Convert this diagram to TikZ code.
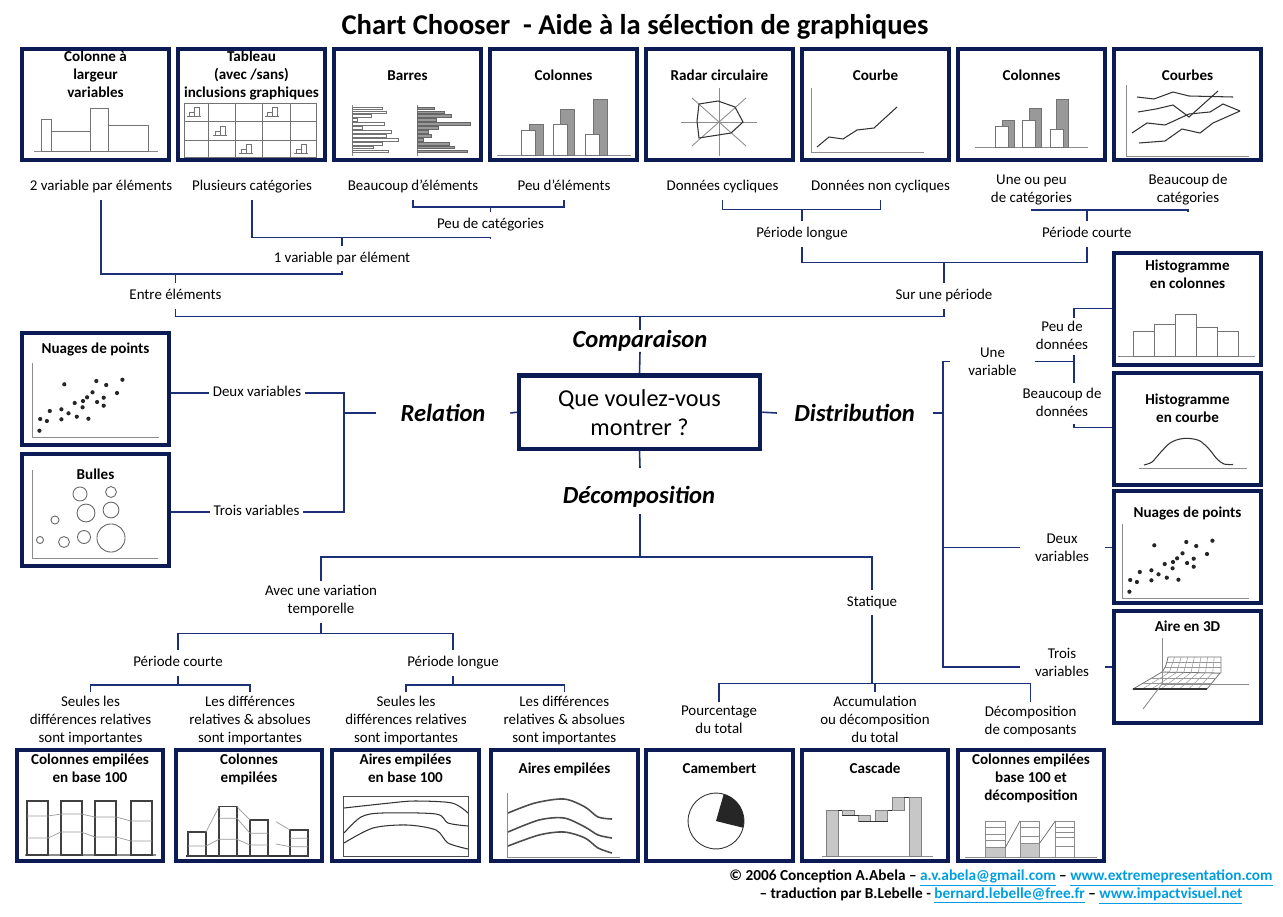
\documentclass[tikz,border=0pt]{standalone}
\usepackage{fontspec}
\setmainfont{Carlito}
\usepackage{xcolor}
\definecolor{boxblue}{RGB}{12,27,84}
\definecolor{lineblue}{RGB}{28,48,120}
\definecolor{webblue}{RGB}{0,158,224}

\tikzset{
  chartbox/.style={draw=boxblue, line width=2.2pt, minimum width=2.93cm, minimum height=2.23cm, inner sep=0pt},
  boxtitle/.style={font=\fontsize{8.6}{10.2}\selectfont\bfseries, align=center, inner sep=1pt, yshift=-1.2pt,
    execute at begin node=\strut, execute at end node=\strut},
  lbl/.style={font=\fontsize{8.5}{10.2}\selectfont, align=center, inner sep=2pt, yshift=-1.2pt,
    execute at begin node=\strut, execute at end node=\strut},
  cat/.style={font=\fontsize{14}{16}\selectfont\bfseries\itshape, inner sep=0pt},
  conn/.style={draw=lineblue, line width=0.9pt},
  axe/.style={draw=black!45, line width=0.5pt},
  fine/.style={draw=black!55, line width=0.45pt},
  crv/.style={draw=black!80, line width=0.6pt}
}

\newcommand{\minibar}[2]{%
  \draw[fine] (#1,#2) -- (#1+14,#2);
  \draw[fine] (#1+2,#2) rectangle (#1+7,#2-4);
  \draw[fine] (#1+7,#2) rectangle (#1+12,#2-9);}
\newcommand{\scatterdots}[2]{%
  \foreach \dx/\dy in {32.3/52.7,64.3/56,74.2/52,90.4/57.3,85/44,60.5/44.7,71.7/39.3,65.1/35,71.7/31.3,55.1/39.7,51/36,50.6/29.7,42.7/34,36.5/23.7,29.4/27.7,17.8/26,44.8/20.3,56.4/18.3,29.4/17.7,14.9/16,8.2/18,7.4/6.3}
    \fill[black!85] (#1+\dx,#2-\dy) circle (1.2pt);}
\newcommand{\weblink}[1]{\textcolor{webblue}{\underline{#1}}}

\begin{document}
\begin{tikzpicture}[x=0.02cm, y=-0.02cm]
\useasboundingbox (0,0) rectangle (1283,916);

\node[font=\fontsize{16.3}{18}\selectfont\bfseries] (title) at (635,27) {Chart Chooser~ - Aide à la sélection de graphiques};

% Top row
\node[chartbox] (colvar) at (95.5,104.5) {};
\node[chartbox] (tableau) at (251.5,104.5) {};
\node[chartbox] (barres) at (407.5,104.5) {};
\node[chartbox] (colpeu) at (563.5,104.5) {};
\node[chartbox] (radar) at (719.5,104.5) {};
\node[chartbox] (courbe) at (875.5,104.5) {};
\node[chartbox] (colcourt) at (1031.5,104.5) {};
\node[chartbox] (courbes) at (1187.5,104.5) {};
\node[boxtitle] (tcolvar) at (95.5,75) {Colonne à\\largeur\\variables};
\node[boxtitle] (ttableau) at (251.5,75) {Tableau\\(avec /sans)\\inclusions graphiques};
\node[boxtitle] (tbarres) at (407.5,75) {Barres};
\node[boxtitle] (tcolpeu) at (563.5,75) {Colonnes};
\node[boxtitle] (tradar) at (719.5,75) {Radar circulaire};
\node[boxtitle] (tcourbe) at (875.5,75) {Courbe};
\node[boxtitle] (tcolcourt) at (1031.5,75) {Colonnes};
\node[boxtitle] (tcourbes) at (1187.5,75) {Courbes};

% Left column
\node[chartbox] (nuage) at (95.5,389) {};
\node[chartbox] (bulles) at (95.5,510) {};
\node[boxtitle] (tnuage) at (95.5,348) {Nuages de points};
\node[boxtitle] (tbulles) at (95.5,474) {Bulles};

% Right column
\node[chartbox] (hcol) at (1187.5,309) {};
\node[chartbox] (hcur) at (1187.5,429) {};
\node[chartbox] (nuage2) at (1187.5,547) {};
\node[chartbox] (aire3d) at (1187.5,667) {};
\node[boxtitle] (thcol) at (1187.5,275) {Histogramme\\en colonnes};
\node[boxtitle] (thcur) at (1187.5,409) {Histogramme\\en courbe};
\node[boxtitle] (tnuage2) at (1187.5,512) {Nuages de points};
\node[boxtitle] (taire3d) at (1187.5,626) {Aire en 3D};

% Bottom row
\node[chartbox] (cb100) at (90,805.5) {};
\node[chartbox] (cemp) at (249,805.5) {};
\node[chartbox] (aire100) at (405.5,805.5) {};
\node[chartbox] (aires) at (564.5,805.5) {};
\node[chartbox] (camemb) at (719.5,805.5) {};
\node[chartbox] (cascade) at (875,805.5) {};
\node[chartbox] (cdecomp) at (1031,805.5) {};
\node[boxtitle] (tcb100) at (90,769) {Colonnes empilées\\en base 100};
\node[boxtitle] (tcemp) at (249,769) {Colonnes\\empilées};
\node[boxtitle] (taire100) at (405.5,769) {Aires empilées\\en base 100};
\node[boxtitle] (taires) at (564.5,768) {Aires empilées};
\node[boxtitle] (tcamemb) at (719.5,768) {Camembert};
\node[boxtitle] (tcascade) at (875,768) {Cascade};
\node[boxtitle] (tcdecomp) at (1031,777.5) {Colonnes empilées\\base 100 et\\décomposition};

% Centre
\node[draw=boxblue, line width=2.6pt, minimum width=4.82cm, minimum height=1.47cm, align=center,
  font=\fontsize{13.8}{16.5}\selectfont] (ask) at (639.5,412.2) {Que voulez-vous\\montrer ?};
\node[cat] (comp) at (640,341) {Comparaison};
\node[cat, minimum width=2.68cm] (relation) at (443,413) {Relation};
\node[cat, minimum width=3.1cm] (distri) at (854.7,413) {Distribution};
\node[cat] (decomp) at (639,497) {Décomposition};

% Labels, comparaison
\node[lbl] (deuxvar) at (101,185) {2 variable par éléments};
\node[lbl] (plus) at (252,185) {Plusieurs catégories};
\node[lbl] (beau) at (413,185) {Beaucoup d’éléments};
\node[lbl] (peu) at (564,185) {Peu d’éléments};
\node[lbl] (cyc) at (722.5,185) {Données cycliques};
\node[lbl] (noncyc) at (880.5,185) {Données non cycliques};
\node[lbl] (uneou) at (1031.4,189) {Une ou peu\\de catégories};
\node[lbl] (beaucat) at (1188,189) {Beaucoup de\\catégories};
\node[lbl] (peucat) at (490.5,223) {Peu de catégories};
\node[lbl] (unvar) at (342,256.5) {1 variable par élément};
\node[lbl] (entre) at (175.5,294) {Entre éléments};
\node[lbl] (plong) at (802,232) {Période longue};
\node[lbl] (pcourte) at (1086.7,232) {Période courte};
\node[lbl] (surper) at (944,294) {Sur une période};

% Labels, relation and distribution
\node[lbl] (deuxv) at (257,391) {Deux variables};
\node[lbl] (troisv) at (256.5,510) {Trois variables};
\node[lbl] (uvar) at (992.5,362) {Une\\variable};
\node[lbl] (peud) at (1062,336) {Peu de\\données};
\node[lbl] (beaud) at (1062,403) {Beaucoup de\\données};
\node[lbl] (deuxv2) at (1062,548) {Deux\\variables};
\node[lbl] (troisv2) at (1062,662.5) {Trois\\variables};

% Labels, decomposition
\node[lbl] (avec) at (321,600) {Avec une variation\\temporelle};
\node[lbl] (stat) at (872,600.5) {Statique};
\node[lbl] (pc1) at (178,661) {Période courte};
\node[lbl] (pl1) at (453,661) {Période longue};
\node[lbl] (s1) at (90.5,720) {Seules les\\différences relatives\\sont importantes};
\node[lbl] (d1) at (250,720) {Les différences\\relatives \& absolues\\sont importantes};
\node[lbl] (s2) at (406,720) {Seules les\\différences relatives\\sont importantes};
\node[lbl] (d2) at (564.3,720) {Les différences\\relatives \& absolues\\sont importantes};
\node[lbl] (pct) at (719,720.5) {Pourcentage\\du total};
\node[lbl] (accu) at (875,720) {Accumulation\\ou décomposition\\du total};
\node[lbl] (decc) at (1030.6,720.5) {Décomposition\\de composants};

% Credits
\node[font=\fontsize{8.7}{10.2}\selectfont\bfseries, align=center] (credit) at (1001,887) {© 2006 Conception A.Abela – \weblink{a.v.abela@gmail.com} – \weblink{www.extremepresentation.com}\\– traduction par B.Lebelle - \weblink{bernard.lebelle@free.fr} – \weblink{www.impactvisuel.net}};

% Connectors, comparaison
\coordinate (j1) at (490.5,207);
\coordinate (j2) at (342,237.5);
\coordinate (j3) at (175.5,274);
\coordinate (j4) at (640,316.5);
\coordinate (j5) at (802,209.5);
\coordinate (j6) at (1086.7,210);
\coordinate (j7) at (944,262.3);
\draw[conn] (beau.south) |- (j1) -| (peu.south);
\draw[conn] (j1) -- (peucat.north);
\draw[conn] (plus.south) |- (j2) -| (peucat.south);
\draw[conn] (j2) -- (unvar.north);
\draw[conn] (deuxvar.south) |- (j3) -| (unvar.south);
\draw[conn] (j3) -- (entre.north);
\draw[conn] (cyc.south) |- (j5) -| (noncyc.south);
\draw[conn] (j5) -- (plong.north);
\draw[conn] (uneou.south) |- (j6) -| (beaucat.south);
\draw[conn] (j6) -- (pcourte.north);
\draw[conn] (plong.south) |- (j7) -| (pcourte.south);
\draw[conn] (j7) -- (surper.north);
\draw[conn] (entre.south) |- (j4) -| (surper.south);
\draw[conn] (j4) -- (comp.north);
\draw[conn] (comp.south) -- (ask.north);

% Connectors, relation
\coordinate (jr) at (344,413);
\draw[conn] (deuxv.west) -- (deuxv.west -| nuage.east);
\draw[conn] (deuxv.east) -| (jr) |- (troisv.east);
\draw[conn] (troisv.west) -- (troisv.west -| bulles.east);
\draw[conn] (jr) -- (relation.west);
\draw[conn] (relation.east) -- (ask.west);

% Connectors, distribution
\coordinate (ds) at (943,413);
\coordinate (dt) at (943,361.3);
\coordinate (db) at (943,666.7);
\coordinate (uv) at (950,361.3);
\coordinate (dvend) at (1020,547.3);
\coordinate (tvend) at (1020,666.7);
\coordinate (dvstub) at (1105,547.3);
\coordinate (tvstub) at (1105,666.7);
\draw[conn] (ask.east) -- (distri.west);
\draw[conn] (distri.east) -- (ds);
\draw[conn] (uv) -- (dt) -- (db) -- (tvend);
\draw[conn] (dt |- dvend) -- (dvend);
\draw[conn] (dvstub) -- (dvstub -| nuage2.west);
\draw[conn] (tvstub) -- (tvstub -| aire3d.west);
\coordinate (uvr) at (1034.7,361.3);
\coordinate (hj) at (1074,361.3);
\coordinate (h1) at (1074,308.3);
\coordinate (h2) at (1074,318);
\coordinate (h3) at (1074,355);
\coordinate (h4) at (1074,383.3);
\coordinate (h5) at (1074,424);
\coordinate (h6) at (1074,427.7);
\draw[conn] (uvr) -- (hj);
\draw[conn] (h2) -- (h1) -- (h1 -| hcol.west);
\draw[conn] (h3) -- (h4);
\draw[conn] (h5) -- (h6) -- (h6 -| hcur.west);

% Connectors, decomposition
\coordinate (dtop) at (640,468);
\coordinate (dbot) at (640,514);
\coordinate (jd) at (640,557);
\coordinate (ja) at (321,633.5);
\coordinate (jc) at (178,685);
\coordinate (jl) at (453,685);
\coordinate (js) at (872,683.3);
\draw[conn] (ask.south) -- (dtop);
\draw[conn] (dbot) -- (jd);
\draw[conn] (avec.north) |- (jd) -| (stat.north);
\draw[conn] (avec.south) -- (ja);
\draw[conn] (pc1.north) |- (ja) -| (pl1.north);
\draw[conn] (pc1.south) -- (jc);
\draw[conn] (s1.north) |- (jc) -| (d1.north);
\draw[conn] (pl1.south) -- (jl);
\draw[conn] (s2.north) |- (jl) -| (d2.north);
\draw[conn] (stat.south) -- (js);
\draw[conn] (pct.north) |- (js) -| (decc.north);
\draw[conn] (accu.north) -- (accu.north |- js);

% Colonne a largeur variable
\draw[axe] (34,151) -- (158,151);
\draw[fine] (41.5,151) rectangle (51.5,119);
\draw[fine] (51.5,151) rectangle (90.5,131);
\draw[fine] (90.5,151) rectangle (108.7,108);
\draw[fine] (108.7,151) rectangle (148.5,125);

% Tableau
\draw[fine] (184,103) rectangle (316,157);
\foreach \x in {208,235,262,290} \draw[fine] (\x,103) -- (\x,157);
\foreach \y in {121,140} \draw[fine] (184,\y) -- (316,\y);
\minibar{187}{116}
\minibar{265}{116}
\minibar{213}{135}
\minibar{239}{153.5}
\minibar{294}{153.5}

% Barres
\draw[axe] (352.3,105) -- (352.3,156);
\foreach \i/\l in {0/382.7,1/386,2/371.7,3/357.3,4/384,5/362.3,6/391.3,7/386.3,8/398.3,9/382.7,10/373.3,11/388.7}
  \draw[fine, fill=white] (352.3,107+3.9*\i) rectangle (\l,109.8+3.9*\i);
\draw[axe] (417.7,105) -- (417.7,156);
\foreach \i/\l in {0/434.3,1/444.3,2/451.7,3/436,4/470.7,5/438.3,6/428.3,7/431.7,8/423.3,9/449,10/454,11/467.3}
  \draw[draw=black!60, fill=black!40, line width=0.4pt] (417.7,107+3.9*\i) rectangle (\l,109.8+3.9*\i);

% Colonnes
\draw[axe] (497,155) -- (631,155);
\foreach \xw/\hw/\xg/\hg in {521/130/529/124, 553/124/560/109, 585/134/593/99} {
  \draw[fine, fill=black!40] (\xg,155) rectangle (\xg+14,\hg);
  \draw[fine, fill=white] (\xw,155) rectangle (\xw+14,\hw);
}

% Radar
\draw[axe] (681,122) -- (757,122);
\draw[axe] (719,88) -- (719,156);
\draw[axe] (692,98) -- (746,146);
\draw[axe] (692,146) -- (746,98);
\draw[crv] (699,104) -- (718,101) -- (735,107) -- (743,122) -- (731,133) -- (699,138) -- (697,121) -- cycle;

% Courbe
\draw[axe] (811,88) -- (811,152) -- (924,152);
\draw[crv] (817,147) -- (829,137) -- (843,139) -- (857,130) -- (874,128) -- (897,107);

% Colonnes, periode courte
\draw[axe] (975,147) -- (1088,147);
\foreach \xw/\hw/\xg/\hg in {995/126/1002/120, 1022/120/1029/108, 1050/129/1056/99} {
  \draw[fine, fill=black!40] (\xg,147) rectangle (\xg+12,\hg);
  \draw[fine, fill=white] (\xw,147) rectangle (\xw+13,\hw);
}

% Courbes
\draw[axe] (1126,85) -- (1126,156) -- (1249,156);
\draw[crv] (1137,97) -- (1154,99) -- (1173,92) -- (1189,96) -- (1233,97);
\draw[crv] (1138,112) -- (1156,109) -- (1173,105) -- (1189,117) -- (1218,91);
\draw[crv] (1132,133) -- (1147,123) -- (1165,125) -- (1189,114) -- (1210,112) -- (1223,104) -- (1240,111);
\draw[crv] (1139,143) -- (1165,141) -- (1182,129) -- (1200,133) -- (1213,123) -- (1240,111);

% Nuages de points
\draw[axe] (32,363) -- (32,437) -- (159,437);
\scatterdots{32}{437}

% Bulles
\draw[axe] (32,470) -- (32,558) -- (158,558);
\foreach \bx/\by/\br in {80/494/4, 111/492/3.1, 86/513/5.1, 111/510/4.5, 55/520/2.3, 84/537/3.7, 64/542/3.1, 40/540/2, 111/538/8}
  \draw[black!60, line width=0.5pt] (\bx,\by) circle[radius=\br*1pt];

% Histogramme en colonnes
\draw[axe] (1118,356) -- (1255,356);
\foreach \xa/\ht in {1133/331, 1154/324, 1175/314, 1196/327, 1217/331}
  \draw[fine] (\xa,356) rectangle (\xa+21,\ht);

% Histogramme en courbe
\draw[axe] (1139,468) -- (1247,468);
\draw[crv] plot[smooth] coordinates {(1144,465) (1152,462) (1160,453) (1170,443) (1180,439) (1190,438.5) (1200,441) (1209,449) (1217,459) (1224,464) (1233,464.5)};

% Nuages de points, droite
\draw[axe] (1122,524) -- (1122,598) -- (1249,598);
\scatterdots{1122}{598}

% Aire en 3D
\draw[fine, fill=white] (1133,689) -- (1162,672) -- (1220,673) -- (1207,689) -- cycle;
\draw[fine, fill=white] (1162,672) .. controls (1166,666) .. (1168,657) -- (1221,657) -- (1221,673) -- cycle;
\foreach \i in {1,...,7}
  \draw[black!40, line width=0.3pt] (1168+6.6*\i,657) -- (1162+7.25*\i,672.5) -- (1133+9.25*\i,689);
\draw[black!40, line width=0.3pt] (1142.7,683.5) -- (1211.3,683.5) (1152.3,678) -- (1215.7,678) (1166,662) -- (1221,662) (1164,667) -- (1221,667);
\draw[black!80, line width=0.7pt] (1133,689) -- (1207,689);
\draw[axe] (1162,638) -- (1162,684) -- (1249,684);
\draw[axe] (1162,684) -- (1143,709);

% Colonnes empilees base 100
\draw[black!45, line width=1.3pt] (25,855) -- (156,855);
\foreach \xa in {27,61,95,131} \draw[black!75, line width=0.6pt] (\xa,855) rectangle (\xa+21,801);
\draw[black!40] (27,816) -- (48,816) -- (61,814) -- (81,814) -- (95,817) -- (116,817) -- (131,821) -- (152,821);
\draw[black!40] (27,838) -- (48,838) -- (61,832) -- (81,832) -- (95,837) -- (116,837) -- (131,841) -- (152,841);

% Colonnes empilees
\draw[black!80, line width=0.7pt] (186,856) -- (308,856);
\foreach \xa/\ht in {188/832, 219/806.7, 250/820, 290/830} \draw[black!75, line width=0.6pt] (\xa,856) rectangle (\xa+18,\ht);
\draw[black!40] (188,846) -- (206,846) -- (219,839.3) -- (237,839.3) -- (250,845) -- (268,845);
\draw[black!40] (219,818.3) -- (237,818.3) -- (250,833.3) -- (268,833.3);
\draw[black!40] (206,832) -- (219,806.7) (237,806.7) -- (250,820) (276,821.7) -- (290,830);
\draw[black!40] (276,844) -- (290,846.7) -- (308,846.7) (290,838.3) -- (308,838.3);

% Aires empilees base 100
\draw[black!70] (343.6,796) rectangle (468,856);
\draw[crv] plot[smooth] coordinates {(344,808) (390,803) (415,801) (452,803) (468,813)};
\draw[crv] plot[smooth] coordinates {(344,833) (361,817) (382,813) (436,814) (448,823) (468,826)};
\draw[crv] plot[smooth] coordinates {(344,843) (373,828) (407,825) (436,830) (448,843) (468,849)};

% Aires empilees
\draw[axe] (507,793) -- (507,857) -- (620,857);
\draw[crv, black!70, line width=0.9pt] plot[smooth] coordinates {(508,813) (535,803) (564,799) (585,807) (598,817) (612,819)};
\draw[crv, black!70, line width=0.9pt] plot[smooth] coordinates {(508,832) (539,820) (564,818) (585,827) (598,835) (612,838)};
\draw[crv, black!70, line width=0.9pt] plot[smooth] coordinates {(508,846) (539,835) (564,832) (585,838) (598,848) (612,853)};

% Camembert
\draw[black!80, line width=0.5pt] (716,821) circle[radius=15.9pt];
\fill[black!85] (716,821) -- ++(74:15.9pt) arc[start angle=74, end angle=-14, radius=15.9pt] -- cycle;

% Cascade
\draw[axe] (822,856) -- (933,856);
\foreach \xa/\ya/\xb/\yb in {826/856/838/810, 842/810/854/815, 858.5/815/870.5/821, 875.5/810/887.5/821, 892/797.5/904/810, 909/856/921/797.5}
  \draw[draw=black!50, fill=black!22] (\xa,\ya) rectangle (\xb,\yb);
\draw[black!80, line width=0.5pt] (838,810) -- (842,810) (842,815) -- (858.5,815) (858.5,821) -- (887.5,821) (887.5,810) -- (892,810) (904,797.5) -- (909,797.5);

% Colonnes empilees et decomposition
\draw[axe] (965,857) -- (1097,857);
\fill[black!22] (985.7,857) rectangle (1005.2,847.7);
\fill[black!22] (1020,857) rectangle (1039.5,843.3);
\foreach \xa in {985.7,1020,1055.3} \draw[black!45] (\xa,857) rectangle (\xa+19.5,821);
\foreach \yy in {827,834,840,847.7} \draw[black!45] (985.7,\yy) -- (1005.2,\yy);
\foreach \yy in {827,836,843.3} \draw[black!45] (1020,\yy) -- (1039.5,\yy);
\foreach \yy in {827,832,837.7,846} \draw[black!45] (1055.3,\yy) -- (1074.8,\yy);
\draw[black!60] (1005.2,847.7) -- (1020,821) (1039.5,843.3) -- (1055.3,821);

\end{tikzpicture}
\end{document}
